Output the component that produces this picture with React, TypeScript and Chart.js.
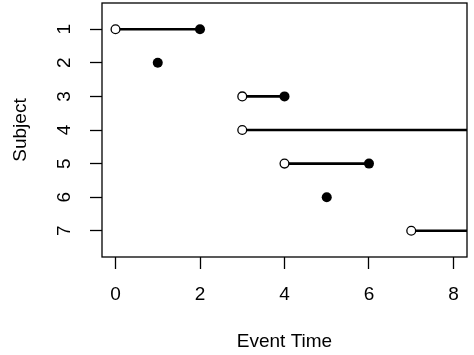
import React, { useEffect, useRef } from "react";
import { Chart, registerables } from "chart.js";

Chart.register(...registerables);

const subjects = [1, 2, 3, 4, 5, 6, 7];
// entry time (open circle); null = no entry marker
const entryTimes: (number | null)[] = [0, null, 3, 3, 4, null, 7];
// event time (filled circle); null = no event (censored, runs to end of axis)
const eventTimes: (number | null)[] = [2, 1, 4, null, 6, 5, null];
const xTickValues = [0, 2, 4, 6, 8];
const yTickValues = [1, 2, 3, 4, 5, 6, 7];

const X_MIN = -0.32;
const X_MAX = 8.32;
const Y_MIN = 0.22;
const Y_MAX = 7.78;

const FONT = "'Liberation Sans', Arial, Helvetica, sans-serif";

export default function App() {
  const ref = useRef<HTMLCanvasElement | null>(null);

  useEffect(() => {
    document.body.style.margin = "0";
    const canvas = ref.current;
    if (!canvas) return;

    const openPts: { x: number; y: number }[] = [];
    const filledPts: { x: number; y: number }[] = [];
    const lineSets: any[] = [];
    subjects.forEach((s, i) => {
      const a = entryTimes[i];
      const b = eventTimes[i];
      if (a !== null) openPts.push({ x: a, y: s });
      if (b !== null) filledPts.push({ x: b, y: s });
      if (a !== null) {
        lineSets.push({
          type: "line",
          data: [
            { x: a, y: s },
            { x: b !== null ? b : X_MAX, y: s },
          ],
          borderColor: "#000",
          borderWidth: 2.6,
          pointRadius: 0,
          showLine: true,
          fill: false,
        });
      }
    });

    const boxPlugin = {
      id: "box",
      afterDraw(chart: any) {
        const { ctx, chartArea } = chart;
        ctx.save();
        ctx.strokeStyle = "#000";
        ctx.lineWidth = 1.3;
        ctx.strokeRect(chartArea.left, chartArea.top, chartArea.right - chartArea.left, chartArea.bottom - chartArea.top);
        ctx.restore();
      },
    };

    const chart = new Chart(canvas, {
      type: "scatter",
      data: {
        datasets: [
          {
            data: openPts,
            pointRadius: 4.4,
            pointBorderWidth: 1.3,
            pointBackgroundColor: "#fff",
            pointBorderColor: "#000",
            showLine: false,
          },
          {
            data: filledPts,
            pointRadius: 5,
            pointBorderWidth: 0,
            pointBackgroundColor: "#000",
            pointBorderColor: "#000",
            showLine: false,
          },
          ...lineSets,
        ] as any,
      },
      options: {
        responsive: false,
        animation: false,
        layout: { autoPadding: false, padding: { top: 3, right: 7, left: 0, bottom: 0 } },
        plugins: { legend: { display: false }, tooltip: { enabled: false } },
        scales: {
          x: {
            type: "linear",
            min: X_MIN,
            max: X_MAX,
            afterBuildTicks: (scale: any) => {
              scale.ticks = xTickValues.map((v) => ({ value: v }));
            },
            afterFit: (scale: any) => {
              scale.height = 98;
              scale.paddingLeft = 0;
              scale.paddingRight = 0;
            },
            grid: { drawOnChartArea: false, tickLength: 12, color: "#000", tickWidth: 1.3 },
            border: { display: false },
            ticks: { color: "#000", font: { family: FONT, size: 19 }, padding: 14.6, maxRotation: 0, autoSkip: false },
            title: {
              display: true,
              text: "Event Time",
              color: "#000",
              font: { family: FONT, size: 19 },
              padding: { top: 0, bottom: 1.6 },
            },
          },
          y: {
            type: "linear",
            reverse: true,
            min: Y_MIN,
            max: Y_MAX,
            afterBuildTicks: (scale: any) => {
              scale.ticks = yTickValues.map((v) => ({ value: v }));
            },
            afterFit: (scale: any) => {
              scale.width = 102;
              scale.paddingTop = 0;
              scale.paddingBottom = 0;
            },
            grid: { drawOnChartArea: false, tickLength: 12, color: "#000", tickWidth: 1.3 },
            border: { display: false },
            ticks: {
              color: "#000",
              font: { family: FONT, size: 19 },
              padding: 19.7,
              minRotation: 90,
              maxRotation: 90,
              crossAlign: "center",
              autoSkip: false,
            },
            title: {
              display: true,
              text: "Subject",
              color: "#000",
              font: { family: FONT, size: 19 },
              padding: { top: 9.6, bottom: 0 },
            },
          },
        },
      } as any,
      plugins: [boxPlugin],
    });

    return () => chart.destroy();
  }, []);

  return <canvas ref={ref} width={474} height={355} style={{ display: "block" }} />;
}
